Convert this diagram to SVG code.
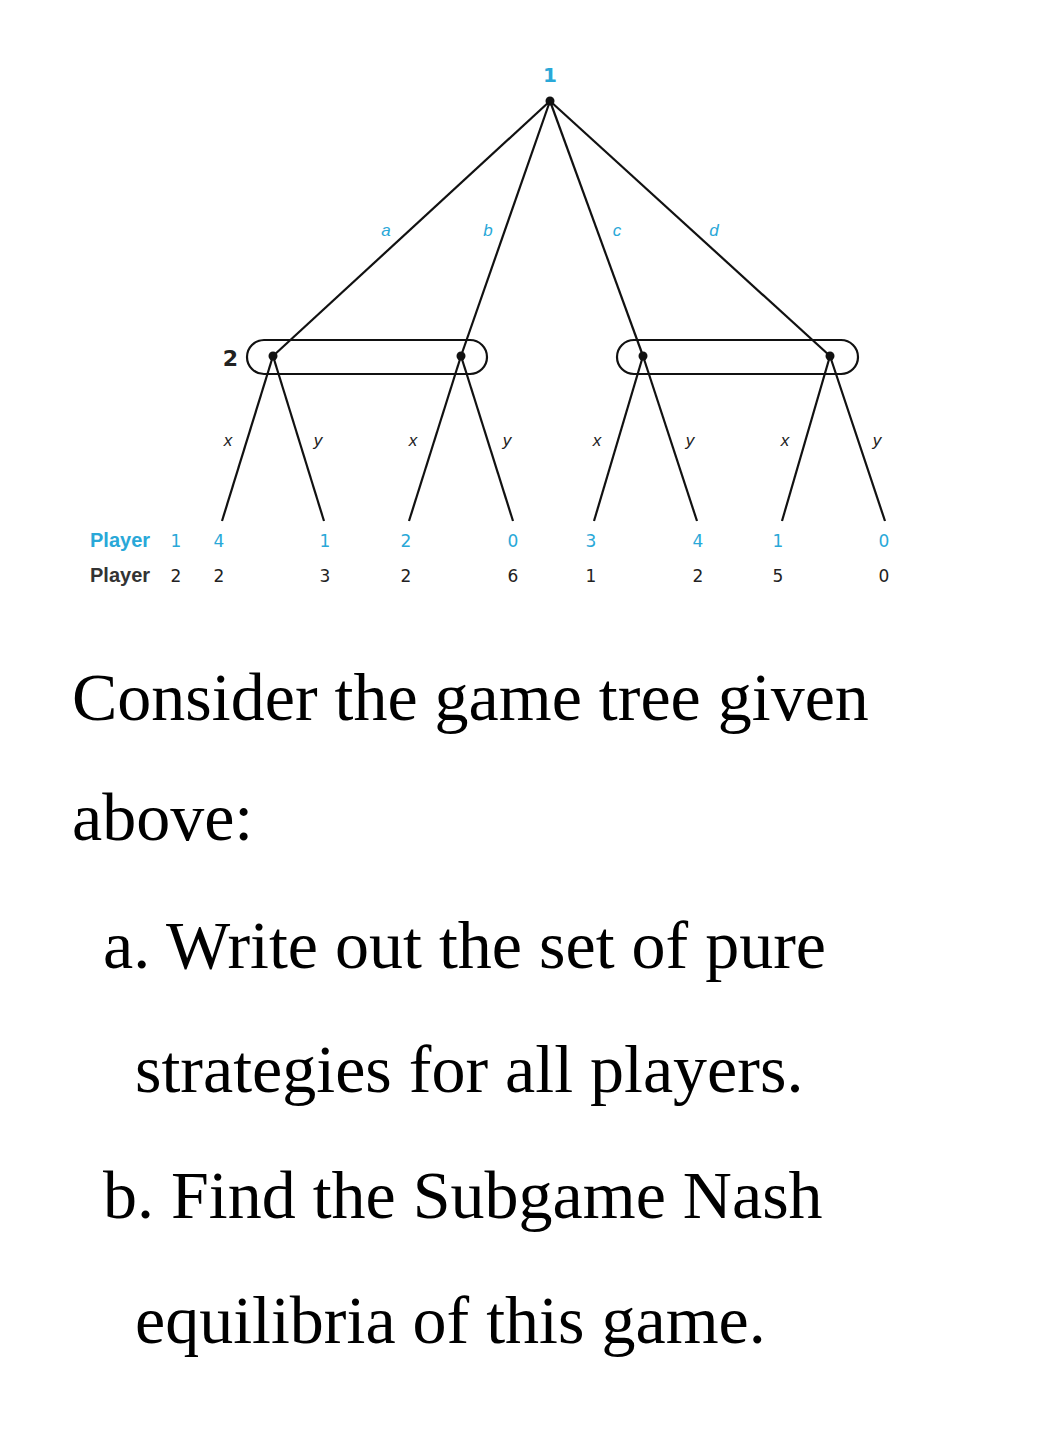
<svg xmlns="http://www.w3.org/2000/svg" width="1059" height="1456" viewBox="0 0 1059 1456">
<style>
.e{stroke:#111;stroke-width:2.2;fill:none}
.lb{font-family:"Liberation Sans",Arial,sans-serif;font-size:17px;fill:#29a8d8;font-style:italic}
.lk{font-family:"Liberation Sans",Arial,sans-serif;font-size:17px;fill:#222;font-style:italic}
.nb{font-family:"DejaVu Sans",sans-serif;font-size:17px;fill:#29a8d8}
.nk{font-family:"DejaVu Sans",sans-serif;font-size:17px;fill:#222}
.q{font-family:"Liberation Serif","Times New Roman",serif;font-size:68px;fill:#000}
</style>
<rect width="1059" height="1456" fill="#fff"/>
<g id="connectors" class="e">
<line x1="550" y1="101" x2="273" y2="356"/><line x1="550" y1="101" x2="461" y2="356"/>
<line x1="550" y1="101" x2="643" y2="356"/><line x1="550" y1="101" x2="830" y2="356"/>
<line x1="273" y1="356" x2="222" y2="521"/><line x1="273" y1="356" x2="324" y2="521"/>
<line x1="461" y1="356" x2="409" y2="521"/><line x1="461" y1="356" x2="513" y2="521"/>
<line x1="643" y1="356" x2="594" y2="521"/><line x1="643" y1="356" x2="697" y2="521"/>
<line x1="830" y1="356" x2="782" y2="521"/><line x1="830" y1="356" x2="885" y2="521"/>
</g>
<g id="root"><circle cx="550" cy="101" r="4.5" fill="#111"/><text x="550" y="82" text-anchor="middle" font-family="DejaVu Sans,sans-serif" font-size="20" font-weight="bold" fill="#29a8d8">1</text></g>
<g id="info-set-left"><rect x="247" y="340" width="240" height="34" rx="17" class="e"/><circle cx="273" cy="356" r="4.5" fill="#111"/><circle cx="461" cy="356" r="4.5" fill="#111"/><text x="238" y="366" text-anchor="end" font-family="DejaVu Sans,sans-serif" font-size="22" font-weight="bold" fill="#222">2</text></g>
<g id="info-set-right"><rect x="617" y="340" width="241" height="34" rx="17" class="e"/><circle cx="643" cy="356" r="4.5" fill="#111"/><circle cx="830" cy="356" r="4.5" fill="#111"/></g>
<g id="edge-labels">
<text class="lb" x="386" y="236" text-anchor="middle">a</text><text class="lb" x="488" y="236" text-anchor="middle">b</text>
<text class="lb" x="617" y="236" text-anchor="middle">c</text><text class="lb" x="714" y="236" text-anchor="middle">d</text>
<text class="lk" x="228" y="446" text-anchor="middle">x</text><text class="lk" x="318" y="446" text-anchor="middle">y</text>
<text class="lk" x="413" y="446" text-anchor="middle">x</text><text class="lk" x="507" y="446" text-anchor="middle">y</text>
<text class="lk" x="597" y="446" text-anchor="middle">x</text><text class="lk" x="690" y="446" text-anchor="middle">y</text>
<text class="lk" x="785" y="446" text-anchor="middle">x</text><text class="lk" x="877" y="446" text-anchor="middle">y</text>
</g>
<g id="payoffs">
<text x="90" y="547" font-family="Liberation Sans,Arial,sans-serif" font-size="20" font-weight="bold" fill="#29a8d8">Player</text><text class="nb" x="176" y="547" text-anchor="middle">1</text>
<text x="90" y="582" font-family="Liberation Sans,Arial,sans-serif" font-size="20" font-weight="bold" fill="#333">Player</text><text class="nk" x="176" y="582" text-anchor="middle">2</text>
<text class="nb" x="219" y="547" text-anchor="middle">4</text><text class="nk" x="219" y="582" text-anchor="middle">2</text>
<text class="nb" x="325" y="547" text-anchor="middle">1</text><text class="nk" x="325" y="582" text-anchor="middle">3</text>
<text class="nb" x="406" y="547" text-anchor="middle">2</text><text class="nk" x="406" y="582" text-anchor="middle">2</text>
<text class="nb" x="513" y="547" text-anchor="middle">0</text><text class="nk" x="513" y="582" text-anchor="middle">6</text>
<text class="nb" x="591" y="547" text-anchor="middle">3</text><text class="nk" x="591" y="582" text-anchor="middle">1</text>
<text class="nb" x="698" y="547" text-anchor="middle">4</text><text class="nk" x="698" y="582" text-anchor="middle">2</text>
<text class="nb" x="778" y="547" text-anchor="middle">1</text><text class="nk" x="778" y="582" text-anchor="middle">5</text>
<text class="nb" x="884" y="547" text-anchor="middle">0</text><text class="nk" x="884" y="582" text-anchor="middle">0</text>
</g>
<g id="question">
<text class="q" x="72" y="720">Consider the game tree given</text>
<text class="q" x="72" y="840">above:</text>
<text class="q" x="103" y="968">a. Write out the set of pure</text>
<text class="q" x="135" y="1092">strategies for all players.</text>
<text class="q" x="103" y="1218">b. Find the Subgame Nash</text>
<text class="q" x="135" y="1343">equilibria of this game.</text>
</g>
</svg>
